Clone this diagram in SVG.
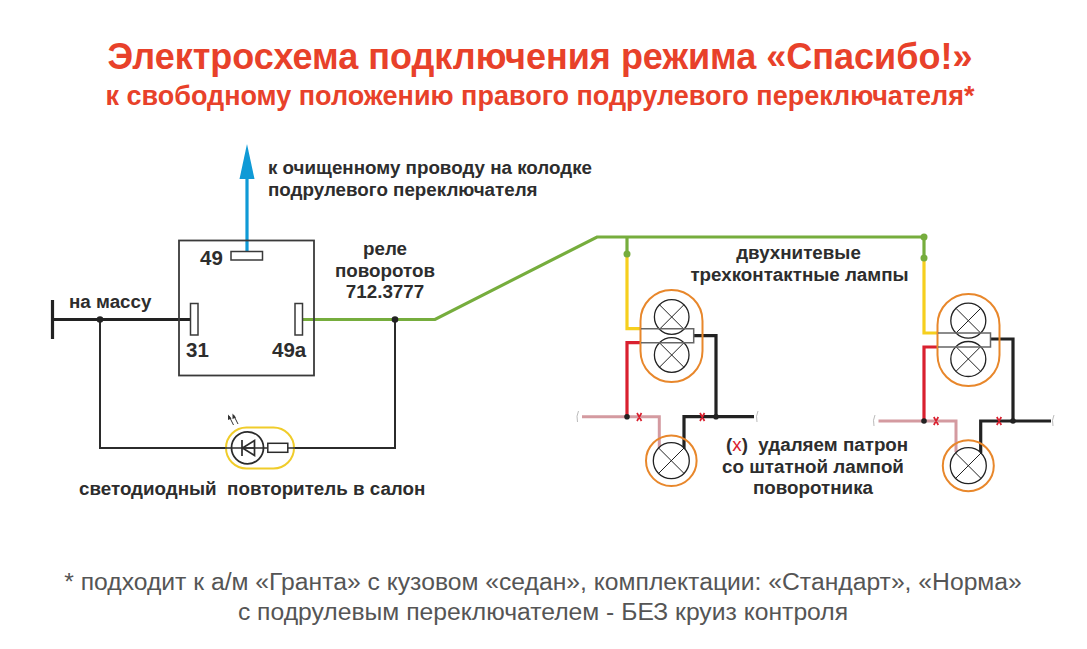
<svg xmlns="http://www.w3.org/2000/svg" width="1087" height="649" viewBox="0 0 1087 649">
<style>
text{font-family:"Liberation Sans",Arial,sans-serif;fill:#2d2d2d}
.b{font-weight:700;font-size:18.8px}
.m{text-anchor:middle}
.t{fill:#e8412a;font-weight:700;text-anchor:middle}
.f{font-size:24.7px;fill:#555;text-anchor:middle}
.n{font-weight:700;font-size:20.5px}
.thin{fill:none;stroke:#2b2b2b;stroke-width:2}
.term{fill:#fff;stroke:#3a3a3a;stroke-width:1.5}
.or{fill:none;stroke:#e8872b;stroke-width:2}
.lamp{fill:#fff;stroke:#222;stroke-width:1.3}
.x{stroke:#222;stroke-width:1}
.gr{fill:none;stroke:#666;stroke-width:1.5}
.dk{fill:none;stroke:#222;stroke-width:3.2}
.rd{fill:none;stroke:#d9202f;stroke-width:3.2}
.yl{fill:none;stroke:#f6cf1e;stroke-width:3.2}
.gn{fill:none;stroke:#76ad3d;stroke-width:3.2}
.pk{fill:none;stroke:#d49aa0;stroke-width:3}
.mk{fill:none;stroke:#d9202f;stroke-width:1.7}
.tl{fill:none;stroke:#bbb;stroke-width:1}
</style>
<rect width="1087" height="649" fill="#fff"/>
<text class="t" x="540" y="69" font-size="36">Электросхема подключения режима «Спасибо!»</text>
<text class="t" x="540" y="105" font-size="27">к свободному положению правого подрулевого переключателя*</text>
<text class="b" x="268" y="174">к очищенному проводу на колодке</text>
<text class="b" x="268" y="196">подрулевого переключателя</text>
<g id="connectors">
<path d="M247 251V176" fill="none" stroke="#0f9ad6" stroke-width="3.2"/>
<path d="M247 144L254.500 179H239.500Z" fill="#0f9ad6"/>
<path class="dk" d="M52.500 300V339"/>
<path class="dk" d="M52.500 319.500H190"/>
<path class="thin" d="M100 319.500V448H395V319.500"/>
<circle cx="100" cy="319.500" r="3.300" fill="#222"/>
<path class="gn" d="M303 319.500H435L597 237H924"/>
<circle cx="395" cy="319.500" r="3.300" fill="#222"/>
<path class="gn" d="M627 237V254"/>
<path class="yl" d="M627 254V328.700H641"/>
<circle cx="627" cy="254" r="3.500" fill="#76ad3d"/>
<path class="rd" d="M627 416.700V342.700H641"/>
<path class="dk" d="M694 335.700H716V416.700"/>
<path class="pk" d="M582 416.700H659.300V448"/>
<path class="dk" d="M716 416.700H754M716 416.700H684V450"/>
<circle cx="627" cy="416.700" r="2.800" fill="#222"/>
<circle cx="716" cy="416.700" r="2.800" fill="#222"/>
<path class="gn" d="M924 237V258"/>
<path class="yl" d="M924 258V333H938"/>
<circle cx="924" cy="237" r="3.500" fill="#76ad3d"/>
<circle cx="924" cy="258" r="3.500" fill="#76ad3d"/>
<path class="rd" d="M924 421V347H938"/>
<path class="dk" d="M990.500 339H1013V421"/>
<path class="pk" d="M878.500 421H956V452"/>
<path class="dk" d="M1013 421H1051M1013 421H980.700V453"/>
<circle cx="924" cy="421" r="2.800" fill="#222"/>
<circle cx="1013" cy="421" r="2.800" fill="#222"/>
</g>
<g id="relay">
<rect x="179" y="240.500" width="135" height="135" fill="none" stroke="#3a3a3a" stroke-width="1.800"/>
<rect class="term" x="231" y="251.500" width="31.500" height="8.500"/>
<rect class="term" x="190.500" y="303.500" width="7.500" height="31.500"/>
<rect class="term" x="295" y="303.500" width="7.500" height="31.500"/>
<text class="n" x="200" y="265">49</text>
<text class="n" x="186" y="357">31</text>
<text class="n" x="272" y="357">49а</text>
</g>
<text class="b" x="69" y="308">на массу</text>
<text class="b m" x="385" y="255">реле</text>
<text class="b m" x="385" y="277">поворотов</text>
<text class="b m" x="385" y="298">712.3777</text>
<g id="led">
<rect x="226" y="427.500" width="68" height="41" rx="20.500" fill="#fff" stroke="#f0cc2a" stroke-width="2"/>
<path d="M225 448H267M288 448H295" fill="none" stroke="#2b2b2b" stroke-width="1.500"/>
<circle cx="247.500" cy="447.800" r="16" fill="none" stroke="#2b2b2b" stroke-width="1.800"/>
<path d="M241.500 448H255" stroke="#2b2b2b" stroke-width="1.500"/>
<path d="M254.500 440.500V455.500L242.500 448ZM242 440V456" fill="none" stroke="#2b2b2b" stroke-width="1.700"/>
<rect x="267.800" y="443.300" width="20" height="9" fill="#fff" stroke="#2b2b2b" stroke-width="1.500"/>
<path d="M233.500 425L229 416M238 424L233.500 415" stroke="#333" stroke-width="1"/>
<path d="M228 414.500L231.500 418.500L228 420ZM232.500 413.500L236 417.500L232.500 419Z" fill="#333"/>
</g>
<text class="b" x="79" y="495">светодиодный&#160; повторитель в салон</text>
<text class="b m" x="798.500" y="259">двухнитевые</text>
<text class="b m" x="799.500" y="281">трехконтактные лампы</text>
<g id="lamp-1">
<rect class="or" x="640.500" y="290" width="62" height="92" rx="31"/>
<circle class="lamp" cx="671.700" cy="317" r="17.300"/><path class="x" d="M659.500 304.800L683.900 329.200M683.900 304.800L659.500 329.200"/>
<circle class="lamp" cx="671.700" cy="355" r="17.300"/><path class="x" d="M659.500 342.800L683.900 367.200M683.900 342.800L659.500 367.200"/>
<path class="gr" d="M641 328.700H693.700V342.700H641"/>
</g>
<g id="bulb-1">
<circle class="or" cx="671.300" cy="460.700" r="25.300"/>
<circle class="lamp" cx="671.300" cy="460.700" r="18"/><path class="x" d="M658.600 448L684 473.400M684 448L658.600 473.400"/>
</g>
<g id="lamp-2">
<rect class="or" x="937.500" y="294" width="62" height="92" rx="31"/>
<circle class="lamp" cx="968.300" cy="320.700" r="17.500"/><path class="x" d="M956 308.400L980.600 333M980.600 308.400L956 333"/>
<circle class="lamp" cx="968.300" cy="359" r="17.500"/><path class="x" d="M956 346.700L980.600 371.300M980.600 346.700L956 371.300"/>
<path class="gr" d="M938 333H990.500V347H938"/>
</g>
<g id="bulb-2">
<circle class="or" cx="968.300" cy="465.700" r="25.500"/>
<circle class="lamp" cx="968.300" cy="465.700" r="18"/><path class="x" d="M955.600 453L981 478.400M981 453L955.600 478.400"/>
</g>
<g id="marks">
<path class="mk" d="M637 413L641.500 421M641.500 413L637 421M700 413L704.500 421M704.500 413L700 421M933.800 417L938.300 425M938.300 417L933.800 425M996.800 417L1001.300 425M1001.300 417L996.800 425"/>
<path class="tl" d="M578.500 411Q576 416 577.500 422M758 411Q755.500 416 757 422M875 415Q872.500 420 874 426M1054 415Q1051.500 420 1053 426"/>
</g>
<text class="b" x="726" y="451">(<tspan fill="#d9202f" font-weight="400">x</tspan>)&#160; удаляем патрон</text>
<text class="b m" x="813" y="473">со штатной лампой</text>
<text class="b m" x="813" y="494">поворотника</text>
<text class="f" x="543" y="590">* подходит к а/м «Гранта» с кузовом «седан», комплектации: «Стандарт», «Норма»</text>
<text class="f" x="543" y="620">с подрулевым переключателем - БЕЗ круиз контроля</text>
</svg>
